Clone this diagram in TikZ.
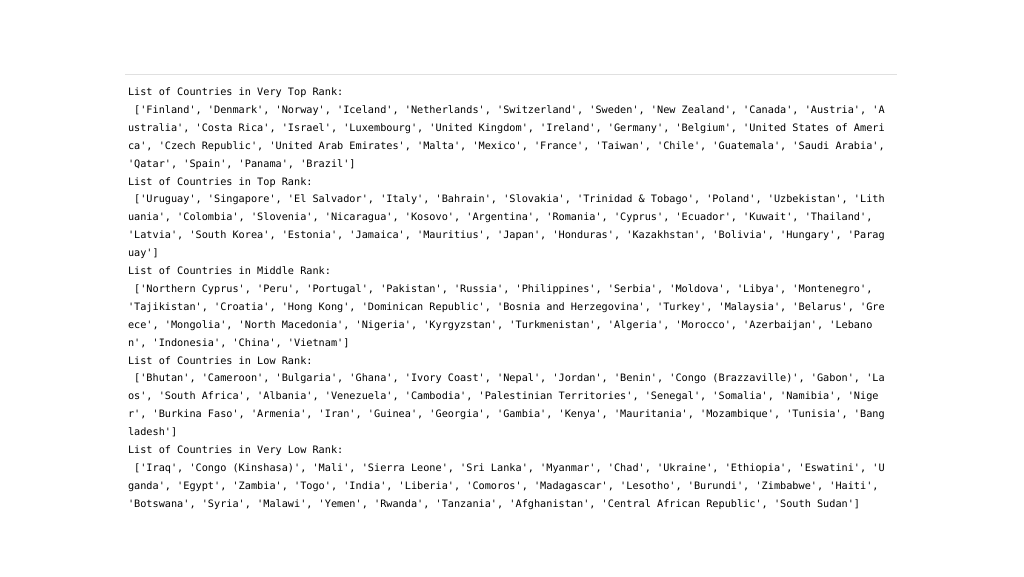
\documentclass[tikz,border=0pt]{standalone}
\usepackage{fontspec}
\setmonofont{DejaVu Sans Mono}
\usepackage{tikz}
\usepackage{xcolor}
\usetikzlibrary{positioning}
\definecolor{rulegray}{HTML}{E0E0E0}
\definecolor{outtext}{HTML}{000000}
\tikzset{
    outline/.style={anchor=base west, inner sep=0pt, outer sep=0pt,
        text=outtext, font=\ttfamily\fontsize{10.22}{17.9}\selectfont},
    outrule/.style={draw=rulegray, line width=1.4pt}
}

\begin{document}
\begin{tikzpicture}[x=1pt, y=-1pt]
    \useasboundingbox (0, 0) rectangle (1024, 576);
    \fill[white] (0, 0) rectangle (1024, 576);
    \coordinate (ruleL) at (125, 74.5);
    \coordinate (ruleR) at (897, 74.5);
    \draw[outrule] (ruleL) -- (ruleR);
    % very top
    \node[outline] (l1) at (128, 95.5) {List of Countries in Very Top Rank:};
    \node[outline] (l2) at (128, 113.4) {~['Finland', 'Denmark', 'Norway', 'Iceland', 'Netherlands', 'Switzerland', 'Sweden', 'New Zealand', 'Canada', 'Austria', 'A};
    \node[outline] (l3) at (128, 131.3) {ustralia', 'Costa Rica', 'Israel', 'Luxembourg', 'United Kingdom', 'Ireland', 'Germany', 'Belgium', 'United States of Ameri};
    \node[outline] (l4) at (128, 149.2) {ca', 'Czech Republic', 'United Arab Emirates', 'Malta', 'Mexico', 'France', 'Taiwan', 'Chile', 'Guatemala', 'Saudi Arabia',};
    \node[outline] (l5) at (128, 167.1) {'Qatar', 'Spain', 'Panama', 'Brazil']};
    % top
    \node[outline] (l6) at (128, 185.0) {List of Countries in Top Rank:};
    \node[outline] (l7) at (128, 202.9) {~['Uruguay', 'Singapore', 'El Salvador', 'Italy', 'Bahrain', 'Slovakia', 'Trinidad \& Tobago', 'Poland', 'Uzbekistan', 'Lith};
    \node[outline] (l8) at (128, 220.8) {uania', 'Colombia', 'Slovenia', 'Nicaragua', 'Kosovo', 'Argentina', 'Romania', 'Cyprus', 'Ecuador', 'Kuwait', 'Thailand',};
    \node[outline] (l9) at (128, 238.7) {'Latvia', 'South Korea', 'Estonia', 'Jamaica', 'Mauritius', 'Japan', 'Honduras', 'Kazakhstan', 'Bolivia', 'Hungary', 'Parag};
    \node[outline] (l10) at (128, 256.6) {uay']};
    % middle
    \node[outline] (l11) at (128, 274.5) {List of Countries in Middle Rank:};
    \node[outline] (l12) at (128, 292.4) {~['Northern Cyprus', 'Peru', 'Portugal', 'Pakistan', 'Russia', 'Philippines', 'Serbia', 'Moldova', 'Libya', 'Montenegro',};
    \node[outline] (l13) at (128, 310.3) {'Tajikistan', 'Croatia', 'Hong Kong', 'Dominican Republic', 'Bosnia and Herzegovina', 'Turkey', 'Malaysia', 'Belarus', 'Gre};
    \node[outline] (l14) at (128, 328.2) {ece', 'Mongolia', 'North Macedonia', 'Nigeria', 'Kyrgyzstan', 'Turkmenistan', 'Algeria', 'Morocco', 'Azerbaijan', 'Lebano};
    \node[outline] (l15) at (128, 346.1) {n', 'Indonesia', 'China', 'Vietnam']};
    % low
    \node[outline] (l16) at (128, 364.0) {List of Countries in Low Rank:};
    \node[outline] (l17) at (128, 381.9) {~['Bhutan', 'Cameroon', 'Bulgaria', 'Ghana', 'Ivory Coast', 'Nepal', 'Jordan', 'Benin', 'Congo (Brazzaville)', 'Gabon', 'La};
    \node[outline] (l18) at (128, 399.8) {os', 'South Africa', 'Albania', 'Venezuela', 'Cambodia', 'Palestinian Territories', 'Senegal', 'Somalia', 'Namibia', 'Nige};
    \node[outline] (l19) at (128, 417.7) {r', 'Burkina Faso', 'Armenia', 'Iran', 'Guinea', 'Georgia', 'Gambia', 'Kenya', 'Mauritania', 'Mozambique', 'Tunisia', 'Bang};
    \node[outline] (l20) at (128, 435.6) {ladesh']};
    % very low
    \node[outline] (l21) at (128, 453.5) {List of Countries in Very Low Rank:};
    \node[outline] (l22) at (128, 471.4) {~['Iraq', 'Congo (Kinshasa)', 'Mali', 'Sierra Leone', 'Sri Lanka', 'Myanmar', 'Chad', 'Ukraine', 'Ethiopia', 'Eswatini', 'U};
    \node[outline] (l23) at (128, 489.3) {ganda', 'Egypt', 'Zambia', 'Togo', 'India', 'Liberia', 'Comoros', 'Madagascar', 'Lesotho', 'Burundi', 'Zimbabwe', 'Haiti',};
    \node[outline] (l24) at (128, 507.2) {'Botswana', 'Syria', 'Malawi', 'Yemen', 'Rwanda', 'Tanzania', 'Afghanistan', 'Central African Republic', 'South Sudan']};
\end{tikzpicture}
\end{document}
